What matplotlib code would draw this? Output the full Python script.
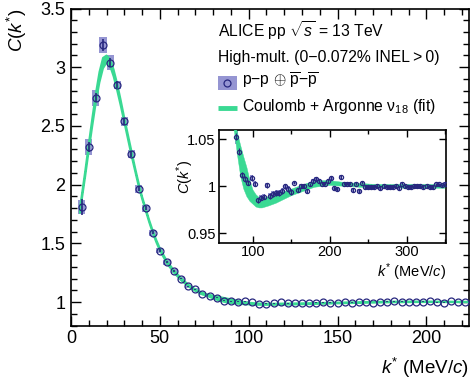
import matplotlib
matplotlib.use("Agg")
import matplotlib.pyplot as plt
from matplotlib.patches import Rectangle
from matplotlib.lines import Line2D
from matplotlib.ticker import MultipleLocator

plt.rcParams['font.family'] = ['Liberation Sans', 'DejaVu Sans']
plt.rcParams['mathtext.fontset'] = 'custom'
plt.rcParams['mathtext.rm'] = 'Liberation Sans'
plt.rcParams['mathtext.it'] = 'Liberation Sans:italic'
plt.rcParams['mathtext.bf'] = 'Liberation Sans:bold'

# ---------------- data ----------------
k_data = [6, 10, 14, 18, 22, 26, 30, 34, 38, 42, 46, 50, 54, 58, 62, 66, 70, 74, 78, 82,
          86, 90, 94, 98, 102, 106, 110, 114, 118, 122, 126, 130, 134, 138, 142, 146, 150,
          154, 158, 162, 166, 170, 174, 178, 182, 186, 190, 194, 198, 202, 206, 210, 214,
          218, 222, 226, 230, 234, 238, 242, 246, 250, 254, 258, 262, 266, 270, 274, 278,
          282, 286, 290, 294, 298, 302, 306, 310, 314, 318, 322, 326, 330, 334, 338, 342,
          346, 350]
c_data = [1.81, 2.32, 2.74, 3.19, 3.04, 2.85, 2.54, 2.26, 1.965, 1.80, 1.59, 1.44, 1.34,
          1.265, 1.20, 1.135, 1.11, 1.07, 1.053, 1.037,
          1.012, 1.008, 1.004, 1.009, 1.003, 0.985, 0.988, 0.989, 1.001, 0.990, 0.992, 0.993,
          0.993, 0.995, 1.000, 0.997, 0.994, 1.004, 0.996, 1.000, 1.000, 0.995, 1.002, 1.006,
          1.008, 1.006, 1.003, 1.003, 1.006, 1.009, 0.998, 0.997, 1.010, 1.003, 1.003, 1.003,
          0.996, 1.003, 0.995, 1.004, 0.999, 0.999, 0.999, 0.999, 1.000, 0.998, 1.000, 0.999,
          0.999, 0.999, 1.000, 0.998, 1.003, 1.000, 0.999, 0.999, 1.000, 1.000, 1.000, 0.999,
          1.000, 0.999, 0.999, 1.002, 1.002, 1.001, 1.003]
stat_err = [0.065, 0.045, 0.04, 0.05, 0.04, 0.03, 0.03, 0.025, 0.02, 0.015, 0.012, 0.01,
            0.008, 0.007, 0.006, 0.005, 0.005, 0.004, 0.004, 0.004,
            0.003, 0.003, 0.003, 0.003, 0.003, 0.003, 0.003, 0.003, 0.003, 0.003, 0.003,
            0.003, 0.003, 0.003, 0.003, 0.003, 0.003, 0.002, 0.002, 0.002, 0.002, 0.002,
            0.002, 0.002, 0.002, 0.002, 0.002, 0.002, 0.002, 0.002, 0.002, 0.002, 0.002,
            0.002, 0.002, 0.002, 0.002, 0.002, 0.002, 0.002, 0.002, 0.002, 0.002, 0.002,
            0.002, 0.002, 0.002, 0.002, 0.002, 0.002, 0.002, 0.002, 0.002, 0.002, 0.002,
            0.002, 0.002, 0.002, 0.002, 0.002, 0.002, 0.002, 0.002, 0.002, 0.002, 0.002,
            0.002]
syst_err = [0.06, 0.07, 0.07, 0.07, 0.065, 0.035, 0.04, 0.035, 0.035, 0.03, 0.025, 0.02,
            0.02, 0.015, 0.015, 0.012, 0.01, 0.01, 0.008, 0.006,
            0.004, 0.004, 0.004, 0.003, 0.003, 0.003, 0.003, 0.003, 0.003, 0.003, 0.003,
            0.003, 0.003, 0.003, 0.003, 0.003, 0.003, 0.002, 0.002, 0.002, 0.002, 0.002,
            0.002, 0.002, 0.002, 0.002, 0.002, 0.002, 0.002, 0.002, 0.002, 0.002, 0.002,
            0.002, 0.002, 0.002, 0.002, 0.002, 0.002, 0.002, 0.002, 0.002, 0.002, 0.002,
            0.002, 0.002, 0.002, 0.002, 0.002, 0.002, 0.002, 0.002, 0.002, 0.002, 0.002,
            0.002, 0.002, 0.002, 0.002, 0.002, 0.002, 0.002, 0.002, 0.002, 0.002, 0.002,
            0.002]

k_fit = [5, 8, 10, 12, 14, 16, 18, 20, 22, 24, 26, 28, 30, 32, 34, 36, 38, 40, 42, 44, 46,
         48, 50, 54, 58, 62, 66, 70, 74, 76, 80, 84, 88, 92, 96, 100, 104, 108, 112, 116,
         120, 130, 140, 150, 160, 170, 180, 190, 200, 220, 240, 260, 300, 350]
fit_lo = [1.76, 2.07, 2.29, 2.50, 2.70, 2.87, 2.99, 3.04, 3.01, 2.92, 2.80, 2.67, 2.53,
          2.39, 2.25, 2.12, 1.99, 1.88, 1.78, 1.68, 1.59, 1.51, 1.44, 1.33, 1.25, 1.185,
          1.135, 1.095, 1.065, 1.057, 1.032, 1.010, 0.997, 0.989, 0.984, 0.981, 0.978,
          0.977, 0.977, 0.978, 0.979, 0.982, 0.986, 0.990, 0.993, 0.996, 0.999, 1.000,
          1.001, 1.000, 0.999, 0.999, 0.998, 0.998]
fit_hi = [1.80, 2.12, 2.35, 2.57, 2.78, 2.96, 3.08, 3.10, 3.07, 2.98, 2.86, 2.72, 2.57,
          2.43, 2.29, 2.15, 2.02, 1.90, 1.80, 1.70, 1.61, 1.53, 1.46, 1.35, 1.27, 1.205,
          1.15, 1.11, 1.08, 1.07, 1.056, 1.043, 1.031, 1.020, 1.006, 0.996, 0.991, 0.988,
          0.987, 0.988, 0.989, 0.991, 0.994, 0.997, 1.000, 1.003, 1.005, 1.006, 1.006,
          1.004, 1.003, 1.002, 1.002, 1.002]

main_xticks = [0, 50, 100, 150, 200]
main_yticks = [1, 1.5, 2, 2.5, 3, 3.5]
inset_xticks = [100, 200, 300]
inset_yticks = [0.95, 1, 1.05]

# ---------------- style ----------------
NAVY = '#27277f'
BOX = '#9595d2'
GREEN = '#3ad993'

fig = plt.figure(figsize=(4.74, 3.83), dpi=100)
ax = fig.add_axes([0.1498, 0.1496, 0.8397, 0.8282])


def draw_data(a, ms, mew, elw, band_lw):
    a.bar(k_data, [2 * s for s in syst_err], bottom=[c - s for c, s in zip(c_data, syst_err)],
          width=4, color=BOX, edgecolor='none', zorder=2)
    a.fill_between(k_fit, fit_lo, fit_hi, facecolor=GREEN, edgecolor=GREEN,
                   linewidth=band_lw, zorder=3)
    a.errorbar(k_data, c_data, yerr=stat_err, fmt='o', ms=ms, mfc='none', mec=NAVY,
               mew=mew, ecolor=NAVY, elinewidth=elw, capsize=0, zorder=4)


draw_data(ax, 5.0, 0.9, 1.2, 1.4)
ax.set_xlim(0, 224)
ax.set_ylim(0.8, 3.5)
ax.set_xticks(main_xticks)
ax.set_yticks(main_yticks)
ax.set_yticklabels(['1', '1.5', '2', '2.5', '3', '3.5'])
ax.xaxis.set_minor_locator(MultipleLocator(10))
ax.yaxis.set_minor_locator(MultipleLocator(0.1))
ax.tick_params(which='both', direction='in', top=True, right=True, width=1.0)
ax.tick_params(which='major', length=7.5, labelsize=13)
ax.tick_params(which='minor', length=4)
ax.tick_params(axis='x', pad=3)
ax.tick_params(axis='y', pad=4)
for sp in ax.spines.values():
    sp.set_linewidth(1.2)
ax.set_xlabel(r'$k^{*}$ (MeV/$c$)', fontsize=13.5, ha='right')
ax.xaxis.set_label_coords(1.0, -0.095)
ax.set_ylabel(r'$C$($k^{*}$)', fontsize=13.5, ha='right')
ax.yaxis.set_label_coords(-0.105, 1.0)

# legend / labels
tfs = 11.3
ax.text(0.369, 0.909, r'ALICE pp $\sqrt{s}$ = 13 TeV', transform=ax.transAxes,
        fontsize=tfs, va='baseline', ha='left')
ax.text(0.369, 0.830, 'High-mult. (0\u22120.072% INEL\u2009>\u20090)', transform=ax.transAxes,
        fontsize=tfs, va='baseline', ha='left')
ax.add_patch(Rectangle((0.369, 0.743), 0.048, 0.044, transform=ax.transAxes,
                       facecolor=BOX, edgecolor='none', zorder=5))
ax.add_line(Line2D([0.393], [0.765], transform=ax.transAxes, marker='o', ms=5,
                   mfc='none', mec=NAVY, mew=0.9, zorder=6))
ax.text(0.430, 0.756, r'p$-$p $\oplus$ $\overline{\rm p}$$-$$\overline{\rm p}$',
        transform=ax.transAxes, fontsize=tfs, va='baseline', ha='left')
ax.add_line(Line2D([0.369, 0.417], [0.686, 0.686], transform=ax.transAxes,
                   color=GREEN, lw=3.5, solid_capstyle='butt'))
ax.text(0.430, 0.677, 'Coulomb + Argonne \u03bd$_{18}$ (fit)', transform=ax.transAxes,
        fontsize=tfs, va='baseline', ha='left')

# ---------------- inset ----------------
axi = fig.add_axes([0.461, 0.3663, 0.4793, 0.2943])
axi.set_facecolor('white')
draw_data(axi, 3.0, 0.9, 0.9, 0.3)
axi.set_xlim(55, 351)
axi.set_ylim(0.94, 1.06)
axi.set_xticks(inset_xticks)
axi.set_yticks(inset_yticks)
axi.set_yticklabels(['0.95', '1', '1.05'])
axi.xaxis.set_minor_locator(MultipleLocator(50))
axi.tick_params(which='both', direction='in', top=True, right=True, width=1.0)
axi.tick_params(which='major', length=5, labelsize=10.5, pad=2)
axi.tick_params(which='minor', length=3)
for sp in axi.spines.values():
    sp.set_linewidth(1.2)
axi.set_xlabel(r'$k^{*}$ (MeV/$c$)', fontsize=10.5, ha='right')
axi.xaxis.set_label_coords(1.0, -0.17)
axi.set_ylabel(r'$C$($k^{*}$)', fontsize=10.5)
axi.yaxis.set_label_coords(-0.10, 0.58)

fig.savefig('out.png', dpi=100)
